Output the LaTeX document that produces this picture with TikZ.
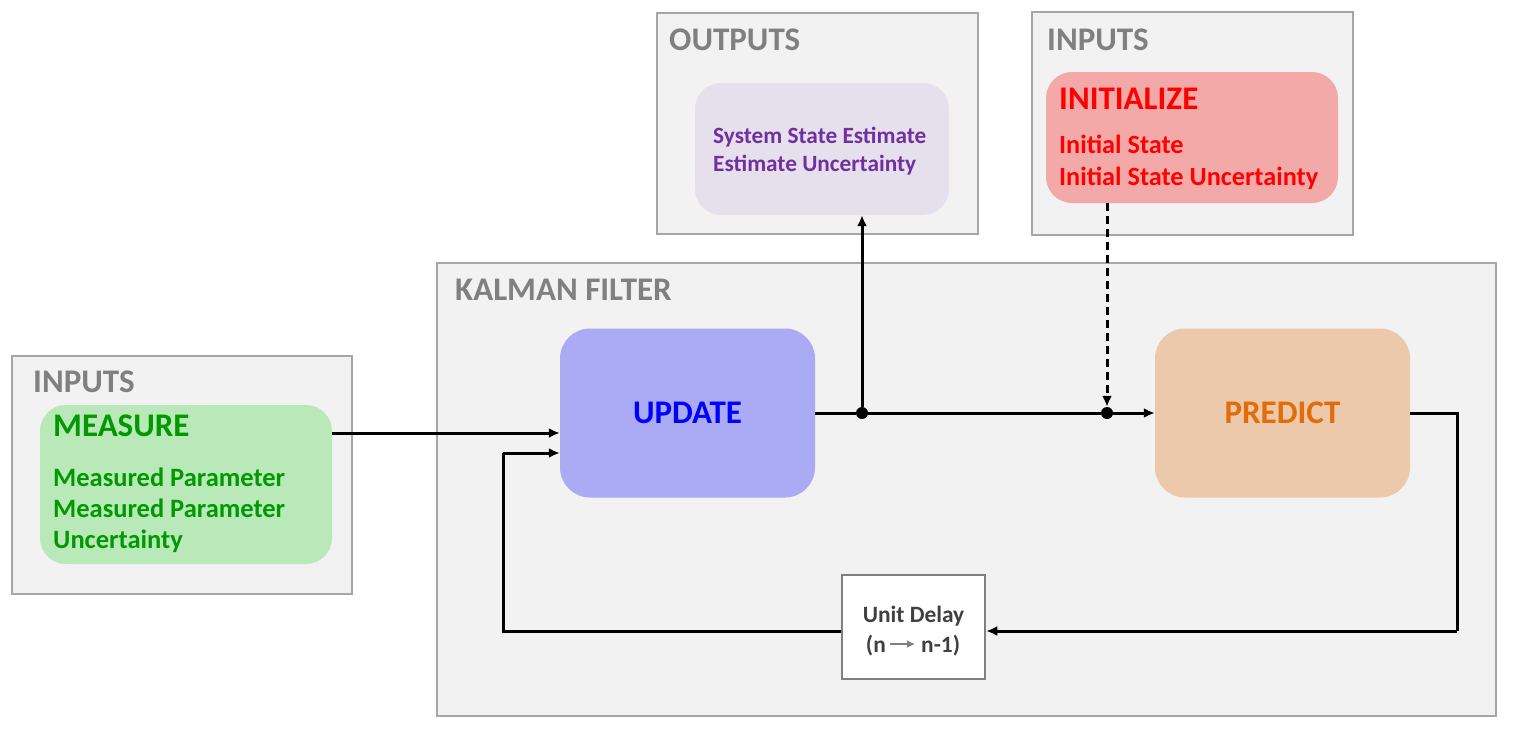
\documentclass[tikz,border=0pt]{standalone}
\usepackage{fontspec}
\setmainfont{Carlito}
\usetikzlibrary{arrows.meta}
\definecolor{framefill}{HTML}{F2F2F2}
\definecolor{framedraw}{HTML}{A6A6A6}
\definecolor{titlegray}{HTML}{808080}
\definecolor{measfill}{HTML}{B9E8B9}
\definecolor{meastext}{HTML}{009A00}
\definecolor{updfill}{HTML}{AAAAF5}
\definecolor{updtext}{HTML}{0000FF}
\definecolor{predfill}{HTML}{EBC9AA}
\definecolor{predtext}{HTML}{E36C0A}
\definecolor{outfill}{HTML}{E6E0EC}
\definecolor{outtext}{HTML}{7030A0}
\definecolor{initfill}{HTML}{F4A9A9}
\definecolor{inittext}{HTML}{FF0000}
\definecolor{delaytext}{HTML}{404040}
\tikzset{
  frame/.style={draw=framedraw, fill=framefill, line width=2.5pt, inner sep=0pt},
  blockbox/.style={rounded corners=#1, inner sep=0pt, draw=none},
  title/.style={anchor=base west, inner sep=0pt, text=titlegray, font=\fontsize{33}{38}\selectfont\bfseries},
  lbl/.style={anchor=base west, inner sep=0pt},
  meastxt/.style={lbl, text=meastext, font=\fontsize{26.5}{31}\selectfont\bfseries},
  outtxt/.style={lbl, text=outtext, font=\fontsize{23.3}{28}\selectfont\bfseries},
  inittxt/.style={lbl, text=inittext, font=\fontsize{26.3}{32}\selectfont\bfseries},
  delaytxt/.style={anchor=base, inner sep=0pt, text=delaytext, font=\fontsize{23.4}{30}\selectfont\bfseries},
  arr/.style={line width=3pt, -{Latex[length=11pt,width=10pt]}},
  ln/.style={line width=3pt},
  dot/.style={circle, fill=black, inner sep=0pt, minimum size=12pt},
}
\begin{document}
\begin{tikzpicture}[x=1pt,y=-1pt]
\useasboundingbox (0,0) rectangle (1518,734);
% frames
\node[frame, minimum width=340pt, minimum height=238pt] (inL) at (182,475) {};
\node[frame, minimum width=1059pt, minimum height=453pt] (kf) at (966.5,489.5) {};
\node[frame, minimum width=321pt, minimum height=221pt] (outF) at (817.5,123.5) {};
\node[frame, minimum width=321pt, minimum height=223pt] (inR) at (1192.5,123.5) {};
% titles
\node[title] (tInL) at (33,392) {INPUTS};
\node[title] (tKF) at (455,300) {KALMAN FILTER};
\node[title] (tOut) at (669,50) {OUTPUTS};
\node[title] (tInR) at (1047,50) {INPUTS};
% measure
\node[blockbox=26pt, fill=measfill, minimum width=292pt, minimum height=159pt] (meas) at (186,484.5) {};
\node[lbl, text=meastext, font=\fontsize{33}{38}\selectfont\bfseries] (measT) at (53,436) {MEASURE};
\node[meastxt] (measL1) at (53,486) {Measured Parameter};
\node[meastxt] (measL2) at (53,517) {Measured Parameter};
\node[meastxt] (measL3) at (53,548) {Uncertainty};
% update / predict
\node[blockbox=30pt, fill=updfill, minimum width=255pt, minimum height=169pt, text=updtext, font=\fontsize{33}{38}\selectfont\bfseries] (upd) at (687.5,413) {UPDATE};
\node[blockbox=30pt, fill=predfill, minimum width=255pt, minimum height=169pt, text=predtext, font=\fontsize{33}{38}\selectfont\bfseries] (pred) at (1282.5,413) {PREDICT};
% outputs
\node[blockbox=26pt, fill=outfill, minimum width=254pt, minimum height=132pt] (outB) at (822,149) {};
\node[outtxt] (outL1) at (713,143) {System State Estimate};
\node[outtxt] (outL2) at (713,171) {Estimate Uncertainty};
% initialize
\node[blockbox=26pt, fill=initfill, minimum width=292pt, minimum height=131pt] (init) at (1192,137.5) {};
\node[lbl, text=inittext, font=\fontsize{33}{38}\selectfont\bfseries] (initT) at (1059,109) {INITIALIZE};
\node[inittxt] (initL1) at (1059,153) {Initial State};
\node[inittxt] (initL2) at (1059,185) {Initial State Uncertainty};
% unit delay
\node[draw=titlegray, fill=white, line width=2.5pt, minimum width=143pt, minimum height=104pt, inner sep=0pt] (delay) at (913.5,627) {};
\node[delaytxt] (delayL1) at (913.5,622) {Unit Delay};
\node[delaytxt, anchor=base east] (delayA) at (886,652) {(n};
\node[delaytxt, anchor=base west] (delayB) at (921,652) {n-1)};
\coordinate (dArrS) at (890,644);
\coordinate (dArrE) at (915,644);
\draw[titlegray, line width=2.5pt, -{Latex[length=8pt,width=8pt]}] (dArrS) -- (dArrE);
% junctions
\node[dot] (j1) at (862,413) {};
\node[dot] (j2) at (1107,413) {};
\coordinate (inA) at (560,433);
\coordinate (c1) at (1457,631);
\coordinate (c2) at (503,453);
% connectors
\draw[arr] (meas.east |- inA) -- (upd.west |- inA);
\draw[ln] (upd.east) -- (j1);
\draw[ln] (j1) -- (j2);
\draw[arr] (j2) -- (pred.west);
\draw[arr] (j1) -- (outB.south -| j1);
\draw[arr, dash pattern=on 8pt off 5pt] (init.south -| j2) -- (j2);
\draw[ln] (pred.east) -| (c1);
\draw[arr] (c1) -- (delay.east |- c1);
\draw[ln] (delay.west |- c1) -| (c2);
\draw[arr] (c2) -- (upd.west |- c2);
\end{tikzpicture}
\end{document}
